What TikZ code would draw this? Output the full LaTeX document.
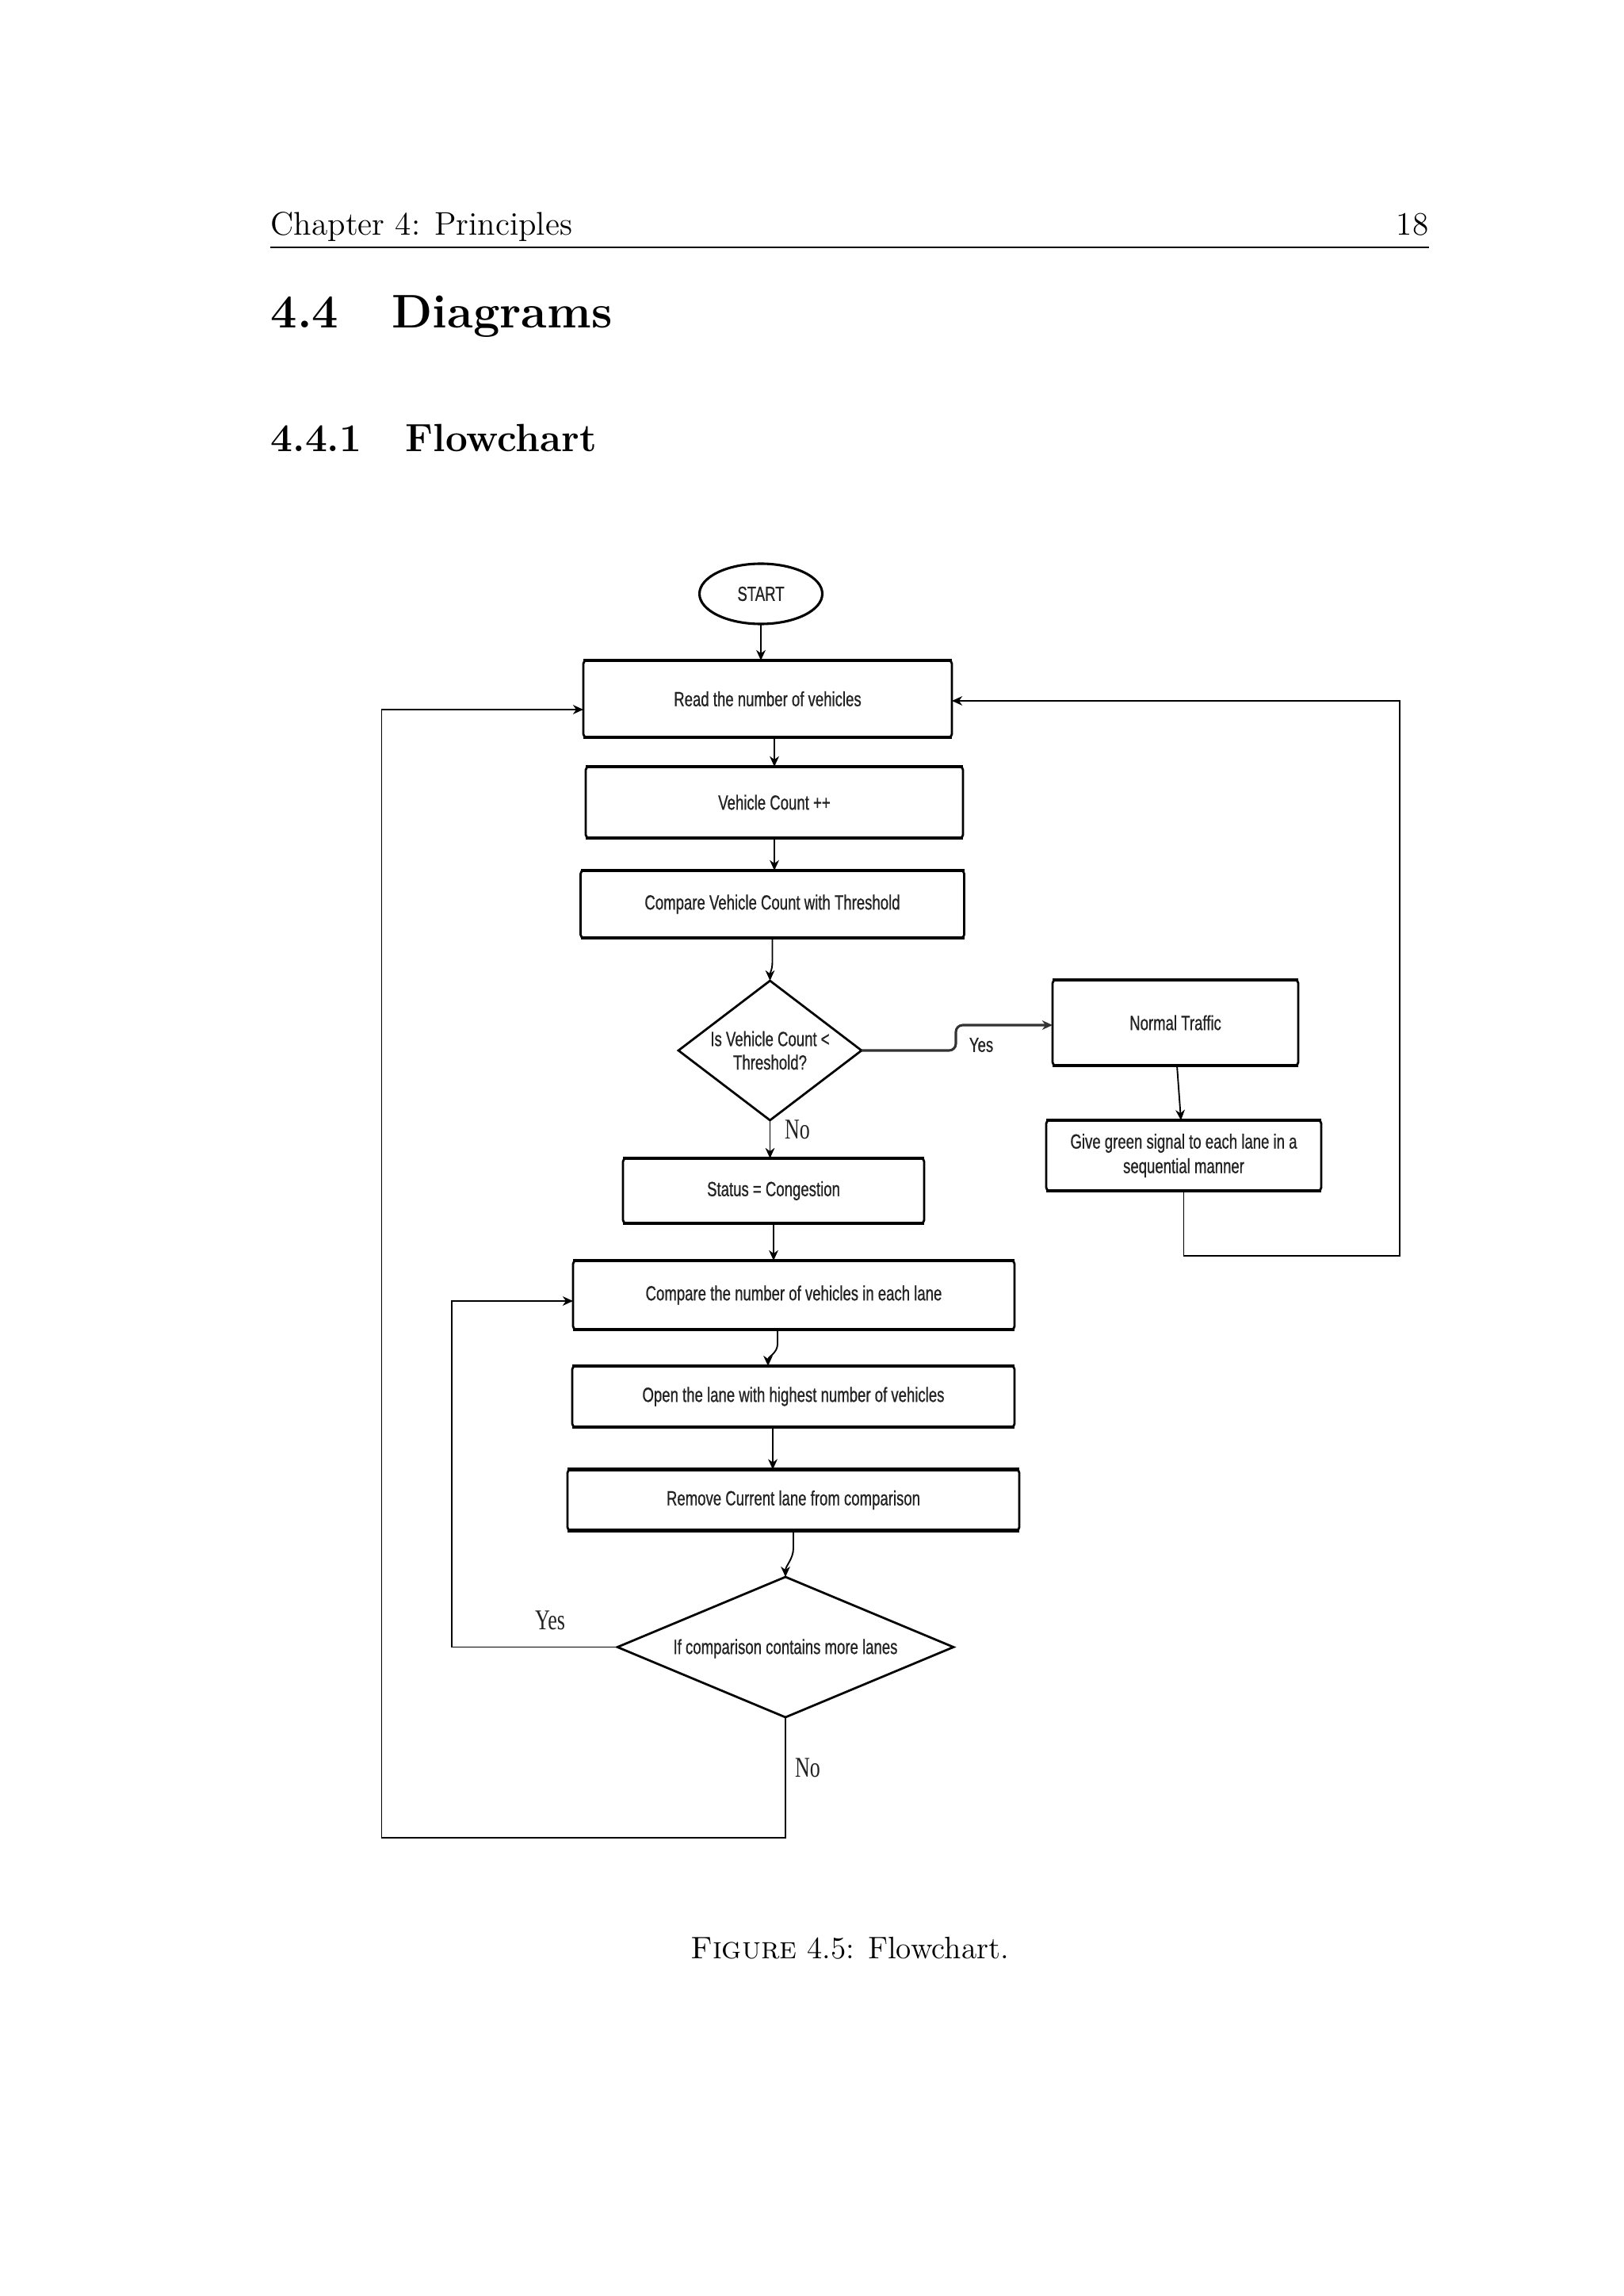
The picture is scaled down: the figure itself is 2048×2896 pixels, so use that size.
\documentclass[tikz,border=0pt]{standalone}
\usepackage{fontspec}
\newfontfamily\fcsans[FakeStretch=0.72,FakeBold=0.7]{Liberation Sans}
\newfontfamily\fcserif[FakeStretch=0.72]{Liberation Serif}
\usetikzlibrary{shapes.geometric,arrows.meta,calc}
\newcommand{\PX}{0.29068pt}
\definecolor{txt}{HTML}{222222}
\begin{document}
\begin{tikzpicture}[x=0.29068pt,y=-0.29068pt,
  box/.style={draw, line width=0.8pt, rounded corners=1.2pt, outer sep=0pt, inner sep=0pt,
    fill=white, text=txt, align=center, font=\fcsans\fontsize{7.5}{9}\selectfont},
  dia/.style={draw, diamond, line width=0.8pt, inner sep=0pt, outer sep=0pt, aspect=1},
  lbl/.style={inner sep=0pt, text=txt, align=center, font=\fcsans\fontsize{7.5}{8.6}\selectfont},
  slbl/.style={inner sep=0pt, text=txt, font=\fcserif\fontsize{10.5}{12}\selectfont},
  arr/.style={line width=0.55pt, -{Stealth[length=3.8pt,width=3.4pt,inset=1.2pt]}},
  hdr/.style={inner sep=0pt, font=\fontsize{12}{14}\selectfont}]
\fill[white] (0,0) rectangle (2048,2896);
\useasboundingbox (0,0) rectangle (2048,2896);

% page header and headings
\node[hdr, anchor=base west] (chap) at (341,297) {Chapter 4: Principles};
\node[hdr, anchor=base east] (pnum) at (1803,297) {18};
\draw[line width=0.5pt] (341,312) -- (1803,312);
\node[inner sep=0pt, anchor=base west, font=\fontsize{17.28}{20}\bfseries\selectfont] (secn) at (341,414) {4.4};
\node[inner sep=0pt, anchor=base west, font=\fontsize{17.28}{20}\bfseries\selectfont] (sect) at (494,414) {Diagrams};
\node[inner sep=0pt, anchor=base west, font=\fontsize{14.4}{17}\bfseries\selectfont] (ssecn) at (341,570) {4.4.1};
\node[inner sep=0pt, anchor=base west, font=\fontsize{14.4}{17}\bfseries\selectfont] (ssect) at (511,570) {Flowchart};

% flowchart nodes
\node[draw, ellipse, line width=0.9pt, minimum width=155*\PX, minimum height=76*\PX, inner sep=0pt, outer sep=0pt,
  text=txt, font=\fcsans\fontsize{7.5}{9}\selectfont] (start) at (960,749) {START};
\node[box, minimum width=465*\PX, minimum height=97*\PX] (b1) at (968.5,881.5) {Read the number of vehicles};
\node[box, minimum width=476*\PX, minimum height=90*\PX] (b2) at (977,1012) {Vehicle Count ++};
\node[box, minimum width=484*\PX, minimum height=85*\PX] (b3) at (974.5,1140.5) {Compare Vehicle Count with Threshold};
\node[dia, minimum width=231*\PX, minimum height=176*\PX] (d1) at (971.5,1325) {};
\node[lbl] (d1t) at (d1.center) {Is Vehicle Count <\\Threshold?};
\node[box, minimum width=310*\PX, minimum height=108*\PX] (nt) at (1483,1290) {Normal Traffic};
\node[box, minimum width=347*\PX, minimum height=89*\PX] (gg) at (1493.5,1457.5) {Give green signal to each lane in a\\sequential manner};
\node[box, minimum width=380*\PX, minimum height=82*\PX] (st) at (976,1502) {Status = Congestion};
\node[box, minimum width=557*\PX, minimum height=87*\PX] (c1) at (1001.5,1633.5) {Compare the number of vehicles in each lane};
\node[box, minimum width=558*\PX, minimum height=77*\PX] (c2) at (1001,1761.5) {Open the lane with highest number of vehicles};
\node[box, minimum width=570*\PX, minimum height=77*\PX] (c3) at (1001,1892) {Remove Current lane from comparison};
\node[dia, minimum width=424*\PX, minimum height=177*\PX] (d2) at (991,2077.5) {};
\node[lbl] (d2t) at ($(d2.center)+(0,2)$) {If comparison contains more lanes};

% thicker top and bottom edges of the boxes
\foreach \n in {b1,b2,b3,nt,gg,st,c1,c2,c3}{
  \draw[line width=1.2pt] (\n.north west) -- (\n.north east);
  \draw[line width=1.2pt] (\n.south west) -- (\n.south east);
}

% labels
\node[lbl] (yes1) at (1238,1318) {Yes};
\node[slbl] (no1) at (1006,1425) {No};
\node[slbl] (yes2) at (694,2044) {Yes};
\node[slbl] (no2) at (1019,2230) {No};

% connectors
\draw[arr] (start.south) -- (start.south |- b1.north);
\draw[arr] (b2.north |- b1.south) -- (b2.north);
\draw[arr] (b2.south) -- (b2.south |- b3.north);
\draw[arr] (b3.south) -- ++(0,30) .. controls +(0,10) and +(0,-10) .. (d1.north);
\draw[arr, line width=0.9pt, draw=black!80, rounded corners=2.5pt] (d1.east) -- ++(119,0) |- ($(nt.west)+(0,3)$);
\draw[arr] ($(nt.south)+(2,0)$) -- ($(gg.north)+(-3.5,0)$);
\draw[arr] (d1.south) -- (d1.south |- st.north);
\draw[arr] (st.south) -- (st.south |- c1.north);
\draw[arr] ($(c1.south)+(-20.5,0)$) -- ++(0,18) .. controls +(0,12) and +(0,-12) .. ($(c2.north)+(-32,0)$);
\draw[arr] ($(c2.south)+(-26,0)$) -- ($(c3.north)+(-26,0)$);
\draw[arr] (c3.south) -- ++(0,22) .. controls +(0,14) and +(0,-14) .. (d2.north);

% feedback loops
\coordinate (rr) at (1766,1584);
\draw[arr] (gg.south) |- (rr) |- ($(b1.east)+(0,2.5)$);
\coordinate (ly) at (570,2077.5);
\draw[arr] (d2.west) -- (ly) |- ($(c1.west)+(0,7.5)$);
\coordinate (lb) at (481.5,2318);
\draw[arr] (d2.south) |- (lb) |- ($(b1.west)+(0,13.5)$);

% caption
\node[inner sep=0pt, anchor=base, font=\fontsize{11.4}{14}\selectfont] (cap) at (1072,2470) {\textsc{Figure} 4.5: Flowchart.};
\end{tikzpicture}
\end{document}
